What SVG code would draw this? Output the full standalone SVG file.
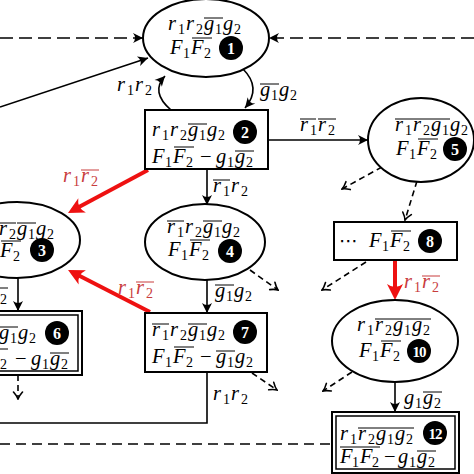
<svg xmlns="http://www.w3.org/2000/svg" width="474" height="474" viewBox="0 0 474 474">
<style>
.m{font-family:"Liberation Serif","DejaVu Serif",serif;font-style:italic;font-size:20.5px;fill:#000}
.s{font-size:14px;font-style:normal}
.u{font-style:normal}
.red{fill:#c83c3c}
.ov{stroke:#000;stroke-width:1;fill:none}
.ovr{stroke:#c83c3c;stroke-width:1;fill:none}
.nd{fill:#fff;stroke:#000;stroke-width:2}
.nd2{fill:none;stroke:#000;stroke-width:1.5}
.bd{fill:#000}
.bn{font-family:"Liberation Serif","DejaVu Serif",serif;font-weight:bold;font-size:16px;fill:#fff;text-anchor:middle}
.e{fill:none;stroke:#000;stroke-width:1.6}
.dl{fill:none;stroke:#000;stroke-width:1.6;stroke-dasharray:13 6}
.db{fill:none;stroke:#000;stroke-width:1.6;stroke-dasharray:10 6}
.ds{fill:none;stroke:#000;stroke-width:1.6;stroke-dasharray:6 4}
.re{fill:none;stroke:#ee1111;stroke-width:4}
</style>
<defs>
<marker id="ah" viewBox="-11 -6 12 12" refX="0" refY="0" markerWidth="12" markerHeight="12" markerUnits="userSpaceOnUse" orient="auto"><path d="M0,0 L-10,-5 Q-6,0 -10,5 Z" fill="#000"/></marker>
<marker id="av" viewBox="-9 -6 10 12" refX="0" refY="0" markerWidth="10" markerHeight="12" markerUnits="userSpaceOnUse" orient="auto"><path d="M-7,-4.5 Q-3,-1 0,0 Q-3,1 -7,4.5" fill="none" stroke="#000" stroke-width="1.6" stroke-linecap="round"/></marker>
<marker id="ar" viewBox="-17 -9 18 18" refX="-5" refY="0" markerWidth="18" markerHeight="18" markerUnits="userSpaceOnUse" orient="auto"><path d="M0,0 L-16,-8 Q-10,0 -16,8 Z" fill="#ee1111"/></marker>
</defs>

<g id="connectors">
<path class="dl" d="M0,38H143" marker-end="url(#ah)"/>
<path class="dl" d="M474,38H269" marker-end="url(#ah)"/>
<path class="db" d="M0,444H332"/>
<path class="e" d="M0,107L148,58" marker-end="url(#ah)"/>
<path class="e" d="M171,110Q150,92 165,76" marker-end="url(#ah)"/>
<path class="e" d="M243,69Q262,88 245,108" marker-end="url(#ah)"/>
<path class="e" d="M268,140H368" marker-end="url(#ah)"/>
<path class="e" d="M207,169V205" marker-end="url(#ah)"/>
<path class="e" d="M207,280V313" marker-end="url(#ah)"/>
<path class="e" d="M18,278V311" marker-end="url(#ah)"/>
<path class="e" d="M395,382V412" marker-end="url(#ah)"/>
<path class="e" d="M207,372V423H0"/>
<path class="ds" d="M382,167L342,189" marker-end="url(#av)"/>
<path class="ds" d="M417,181L405,220" marker-end="url(#av)"/>
<path class="ds" d="M366,262L322,290" marker-end="url(#av)"/>
<path class="ds" d="M250,270L278,290" marker-end="url(#av)"/>
<path class="ds" d="M252,373L277,390" marker-end="url(#av)"/>
<path class="ds" d="M352,372L323,391" marker-end="url(#av)"/>
<path class="ds" d="M18,375V399" marker-end="url(#av)"/>
<path class="re" d="M148,170L72.4,210.6" marker-end="url(#ar)"/>
<path class="re" d="M150,312L72.5,272.3" marker-end="url(#ar)"/>
<path class="re" d="M395,260V295" marker-end="url(#ar)"/>
<!-- labels -->
<text class="m"><tspan x="117" y="91">r</tspan><tspan class="s" x="127" y="95">1</tspan><tspan x="135" y="91">r</tspan><tspan class="s" x="145" y="95">2</tspan></text>
<text class="m"><tspan x="260" y="96">g</tspan><tspan class="s" x="271" y="100">1</tspan><tspan x="279" y="96">g</tspan><tspan class="s" x="290" y="100">2</tspan></text>
<path class="ov" d="M260,84H279"/>
<text class="m"><tspan x="300" y="131">r</tspan><tspan class="s" x="310" y="135">1</tspan><tspan x="318" y="131">r</tspan><tspan class="s" x="328" y="135">2</tspan></text>
<path class="ov" d="M300,119H316M318,119H336"/>
<text class="m"><tspan x="213" y="192">r</tspan><tspan class="s" x="223" y="196">1</tspan><tspan x="231" y="192">r</tspan><tspan class="s" x="241" y="196">2</tspan></text>
<path class="ov" d="M213,180H230"/>
<text class="m"><tspan x="215" y="297">g</tspan><tspan class="s" x="226" y="301">1</tspan><tspan x="234" y="297">g</tspan><tspan class="s" x="245" y="301">2</tspan></text>
<path class="ov" d="M215,285H234"/>
<text class="m"><tspan x="213" y="400">r</tspan><tspan class="s" x="223" y="404">1</tspan><tspan x="231" y="400">r</tspan><tspan class="s" x="241" y="404">2</tspan></text>
<text class="m"><tspan x="-28" y="300">r</tspan><tspan class="s" x="-18" y="304">1</tspan><tspan x="-10" y="300">r</tspan><tspan class="s" x="0" y="304">2</tspan></text>
<path class="ov" d="M-10,288H8"/>
<text class="m"><tspan x="404" y="404">g</tspan><tspan class="s" x="415" y="408">1</tspan><tspan x="423" y="404">g</tspan><tspan class="s" x="434" y="408">2</tspan></text>
<path class="ov" d="M423,392H442"/>
<text class="m red"><tspan x="63" y="182">r</tspan><tspan class="s" x="73" y="186">1</tspan><tspan x="81" y="182">r</tspan><tspan class="s" x="91" y="186">2</tspan></text>
<path class="ovr" d="M81,170H99"/>
<text class="m red"><tspan x="118" y="294">r</tspan><tspan class="s" x="128" y="298">1</tspan><tspan x="136" y="294">r</tspan><tspan class="s" x="146" y="298">2</tspan></text>
<path class="ovr" d="M136,282H154"/>
<text class="m red"><tspan x="404" y="288">r</tspan><tspan class="s" x="414" y="292">1</tspan><tspan x="422" y="288">r</tspan><tspan class="s" x="432" y="292">2</tspan></text>
<path class="ovr" d="M422,276H440"/>
</g>

<g id="n1">
<ellipse class="nd" cx="206" cy="38" rx="63" ry="39"/>
<text class="m"><tspan x="168" y="30">r</tspan><tspan class="s" x="178" y="34">1</tspan><tspan x="186" y="30">r</tspan><tspan class="s" x="196" y="34">2</tspan><tspan x="204" y="30">g</tspan><tspan class="s" x="215" y="34">1</tspan><tspan x="223" y="30">g</tspan><tspan class="s" x="234" y="34">2</tspan></text>
<text class="m"><tspan x="170" y="54">F</tspan><tspan class="s" x="183" y="58">1</tspan><tspan x="191" y="54">F</tspan><tspan class="s" x="204" y="58">2</tspan></text>
<path class="ov" d="M204,18H223M192,38H212"/>
<circle class="bd" cx="231" cy="48" r="12"/><text class="bn" x="231" y="53.5">1</text>
</g>

<g id="n2">
<rect class="nd" x="145" y="110" width="123" height="59"/>
<text class="m"><tspan x="152" y="136">r</tspan><tspan class="s" x="162" y="140">1</tspan><tspan x="170" y="136">r</tspan><tspan class="s" x="180" y="140">2</tspan><tspan x="188" y="136">g</tspan><tspan class="s" x="199" y="140">1</tspan><tspan x="207" y="136">g</tspan><tspan class="s" x="218" y="140">2</tspan></text>
<text class="m"><tspan x="152" y="163">F</tspan><tspan class="s" x="165" y="167">1</tspan><tspan x="173" y="163">F</tspan><tspan class="s" x="186" y="167">2</tspan><tspan class="u" x="200" y="163">−</tspan><tspan x="216" y="163">g</tspan><tspan class="s" x="227" y="167">1</tspan><tspan x="235" y="163">g</tspan><tspan class="s" x="246" y="167">2</tspan></text>
<path class="ov" d="M188,124H207M174,147H194M235,151H254"/>
<circle class="bd" cx="245" cy="132" r="12"/><text class="bn" x="245" y="137.5">2</text>
</g>

<g id="n3">
<ellipse class="nd" cx="17" cy="240" rx="63" ry="38"/>
<text class="m"><tspan x="-19" y="235">r</tspan><tspan class="s" x="-9" y="239">1</tspan><tspan x="-1" y="235">r</tspan><tspan class="s" x="9" y="239">2</tspan><tspan x="17" y="235">g</tspan><tspan class="s" x="28" y="239">1</tspan><tspan x="36" y="235">g</tspan><tspan class="s" x="47" y="239">2</tspan></text>
<text class="m"><tspan x="-21" y="257">F</tspan><tspan class="s" x="-8" y="261">1</tspan><tspan x="0" y="257">F</tspan><tspan class="s" x="13" y="261">2</tspan></text>
<path class="ov" d="M-1,223H16M17,223H36M1,241H21"/>
<circle class="bd" cx="42" cy="250" r="12"/><text class="bn" x="42" y="255.5">3</text>
</g>

<g id="n4">
<ellipse class="nd" cx="205" cy="242" rx="60" ry="38"/>
<text class="m"><tspan x="167" y="233">r</tspan><tspan class="s" x="177" y="237">1</tspan><tspan x="185" y="233">r</tspan><tspan class="s" x="195" y="237">2</tspan><tspan x="203" y="233">g</tspan><tspan class="s" x="214" y="237">1</tspan><tspan x="222" y="233">g</tspan><tspan class="s" x="233" y="237">2</tspan></text>
<text class="m"><tspan x="168" y="256">F</tspan><tspan class="s" x="181" y="260">1</tspan><tspan x="189" y="256">F</tspan><tspan class="s" x="202" y="260">2</tspan></text>
<path class="ov" d="M167,221H184M203,221H222M190,240H210"/>
<circle class="bd" cx="230" cy="251" r="12"/><text class="bn" x="230" y="256.5">4</text>
</g>

<g id="n5">
<ellipse class="nd" cx="421" cy="140" rx="53" ry="42"/>
<text class="m"><tspan x="395" y="131">r</tspan><tspan class="s" x="405" y="135">1</tspan><tspan x="413" y="131">r</tspan><tspan class="s" x="423" y="135">2</tspan><tspan x="431" y="131">g</tspan><tspan class="s" x="442" y="135">1</tspan><tspan x="450" y="131">g</tspan><tspan class="s" x="461" y="135">2</tspan></text>
<text class="m"><tspan x="396" y="155">F</tspan><tspan class="s" x="409" y="159">1</tspan><tspan x="417" y="155">F</tspan><tspan class="s" x="430" y="159">2</tspan></text>
<path class="ov" d="M395,119H450M418,139H438"/>
<circle class="bd" cx="455" cy="149" r="12"/><text class="bn" x="455" y="154.5">5</text>
</g>

<g id="n6">
<rect class="nd" x="-60" y="311" width="142" height="64"/>
<rect class="nd2" x="-56" y="315" width="134" height="56"/>
<text class="m"><tspan x="-37" y="339">r</tspan><tspan class="s" x="-27" y="343">1</tspan><tspan x="-19" y="339">r</tspan><tspan class="s" x="-9" y="343">2</tspan><tspan x="-1" y="339">g</tspan><tspan class="s" x="10" y="343">1</tspan><tspan x="18" y="339">g</tspan><tspan class="s" x="29" y="343">2</tspan></text>
<text class="m"><tspan x="-34" y="365">F</tspan><tspan class="s" x="-21" y="369">1</tspan><tspan x="-13" y="365">F</tspan><tspan class="s" x="0" y="369">2</tspan><tspan class="u" x="15" y="365">−</tspan><tspan x="31" y="365">g</tspan><tspan class="s" x="42" y="369">1</tspan><tspan x="50" y="365">g</tspan><tspan class="s" x="61" y="369">2</tspan></text>
<path class="ov" d="M-19,327H-1M-1,327H18M-12,349H8M50,353H69"/>
<circle class="bd" cx="57" cy="333" r="12"/><text class="bn" x="57" y="338.5">6</text>
</g>

<g id="n7">
<rect class="nd" x="145" y="313" width="122" height="59"/>
<text class="m"><tspan x="152" y="336">r</tspan><tspan class="s" x="162" y="340">1</tspan><tspan x="170" y="336">r</tspan><tspan class="s" x="180" y="340">2</tspan><tspan x="188" y="336">g</tspan><tspan class="s" x="199" y="340">1</tspan><tspan x="207" y="336">g</tspan><tspan class="s" x="218" y="340">2</tspan></text>
<text class="m"><tspan x="152" y="363">F</tspan><tspan class="s" x="165" y="367">1</tspan><tspan x="173" y="363">F</tspan><tspan class="s" x="186" y="367">2</tspan><tspan class="u" x="200" y="363">−</tspan><tspan x="216" y="363">g</tspan><tspan class="s" x="227" y="367">1</tspan><tspan x="235" y="363">g</tspan><tspan class="s" x="246" y="367">2</tspan></text>
<path class="ov" d="M152,324H169M188,324H207M174,347H194M216,351H235"/>
<circle class="bd" cx="245" cy="332" r="12"/><text class="bn" x="245" y="337.5">7</text>
</g>

<g id="n8">
<rect class="nd" x="334" y="222" width="123" height="38"/>
<text class="m"><tspan class="u" x="339" y="247" style="font-family:'DejaVu Serif','DejaVu Sans',serif;font-size:19px">⋯</tspan><tspan x="369" y="247">F</tspan><tspan class="s" x="382" y="251">1</tspan><tspan x="390" y="247">F</tspan><tspan class="s" x="403" y="251">2</tspan></text>
<path class="ov" d="M391,231H411"/>
<circle class="bd" cx="430" cy="241" r="12"/><text class="bn" x="430" y="246.5">8</text>
</g>

<g id="n10">
<ellipse class="nd" cx="395" cy="341" rx="63" ry="41"/>
<text class="m"><tspan x="357" y="331">r</tspan><tspan class="s" x="367" y="335">1</tspan><tspan x="375" y="331">r</tspan><tspan class="s" x="385" y="335">2</tspan><tspan x="393" y="331">g</tspan><tspan class="s" x="404" y="335">1</tspan><tspan x="412" y="331">g</tspan><tspan class="s" x="423" y="335">2</tspan></text>
<text class="m"><tspan x="359" y="357">F</tspan><tspan class="s" x="372" y="361">1</tspan><tspan x="380" y="357">F</tspan><tspan class="s" x="393" y="361">2</tspan></text>
<path class="ov" d="M375,319H431M381,341H401"/>
<circle class="bd" cx="419" cy="351" r="12"/><text class="bn" x="419" y="356.5" style="font-size:15px;letter-spacing:-1px">10</text>
</g>

<g id="n12">
<rect class="nd" x="332" y="412" width="127" height="61"/>
<rect class="nd2" x="336" y="416" width="119" height="53"/>
<text class="m"><tspan x="340" y="440">r</tspan><tspan class="s" x="350" y="444">1</tspan><tspan x="358" y="440">r</tspan><tspan class="s" x="368" y="444">2</tspan><tspan x="376" y="440">g</tspan><tspan class="s" x="387" y="444">1</tspan><tspan x="395" y="440">g</tspan><tspan class="s" x="406" y="444">2</tspan></text>
<text class="m"><tspan x="340" y="463">F</tspan><tspan class="s" x="352" y="467">1</tspan><tspan x="360" y="463">F</tspan><tspan class="s" x="372" y="467">2</tspan><tspan class="u" x="384" y="463">−</tspan><tspan x="398" y="463">g</tspan><tspan class="s" x="409" y="467">1</tspan><tspan x="417" y="463">g</tspan><tspan class="s" x="428" y="467">2</tspan></text>
<path class="ov" d="M358,428H414M340,447H380M417,451H436"/>
<circle class="bd" cx="435" cy="433" r="12"/><text class="bn" x="435" y="438.5" style="font-size:15px;letter-spacing:-1px">12</text>
</g>
</svg>
